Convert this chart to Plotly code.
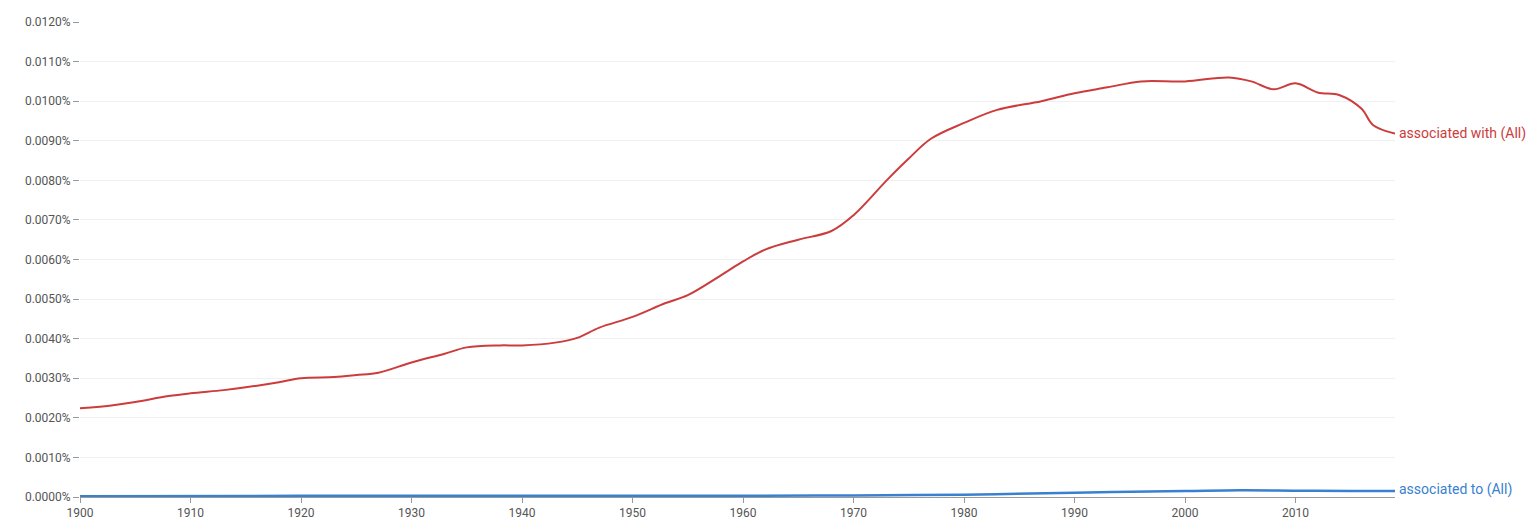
import plotly.graph_objects as go

# values are in percent
years_with = [1900, 1903, 1905, 1908, 1910, 1913, 1915, 1918, 1920, 1923, 1925, 1927, 1930, 1933,
              1935, 1938, 1940, 1943, 1945, 1947, 1950, 1953, 1955, 1958, 1960, 1962, 1965, 1968,
              1970, 1973, 1975, 1977, 1980, 1983, 1987, 1990, 1993, 1996, 2000, 2004, 2006, 2008,
              2010, 2012, 2014, 2016, 2017, 2019]
assoc_with = [0.00224, 0.00232, 0.00240, 0.00255, 0.00262, 0.00270, 0.00277, 0.00290, 0.00300,
              0.00303, 0.00308, 0.00314, 0.00340, 0.00362, 0.00378, 0.00383, 0.00383, 0.00390,
              0.00402, 0.00428, 0.00455, 0.00490, 0.00510, 0.00560, 0.00595, 0.00625, 0.00650,
              0.00672, 0.00712, 0.00800, 0.00855, 0.00905, 0.00945, 0.00978, 0.01000, 0.01020,
              0.01035, 0.01050, 0.01050, 0.01060, 0.01050, 0.01030, 0.01045, 0.01022, 0.01015,
              0.00980, 0.00940, 0.00918]

years_to = [1900, 1920, 1940, 1960, 1970, 1980, 1990, 2000, 2005, 2010, 2015, 2019]
assoc_to = [0.00002, 0.00003, 0.00003, 0.00003, 0.00004, 0.00006, 0.00011, 0.00015, 0.00017,
            0.00016, 0.00015, 0.00015]

red = "#cc3c3c"
blue = "#3a80d0"

fig = go.Figure()
fig.add_trace(go.Scatter(x=years_with, y=assoc_with, mode="lines", line=dict(color=red, width=2, shape="spline"),
                         name="associated with (All)"))
fig.add_trace(go.Scatter(x=years_to, y=assoc_to, mode="lines", line=dict(color=blue, width=2.5, shape="spline"),
                         name="associated to (All)"))

fig.add_annotation(x=2019, y=assoc_with[-1], text="associated with (All)", showarrow=False,
                   xanchor="left", xshift=2, font=dict(color=red, size=14))
fig.add_annotation(x=2019, y=assoc_to[-1], text="associated to (All)", showarrow=False,
                   xanchor="left", xshift=2, yshift=2, font=dict(color=blue, size=14))

fig.update_layout(
    width=1536, height=524, showlegend=False,
    plot_bgcolor="white", paper_bgcolor="white",
    margin=dict(l=72, r=149, t=14, b=23),
    font=dict(family="Roboto", size=12, color="#555"),
    xaxis=dict(range=[1900, 2019], tickvals=list(range(1900, 2011, 10)), showgrid=False,
               ticks="outside", ticklen=5, tickcolor="#999", showline=True, linecolor="#999"),
    yaxis=dict(range=[0, 0.012], dtick=0.001, tickformat=".4f", ticksuffix="%", gridcolor="#f0f0f0",
               ticks="outside", ticklen=6, tickcolor="#999", zeroline=False, automargin=False),
)

fig.write_html("out.html")
